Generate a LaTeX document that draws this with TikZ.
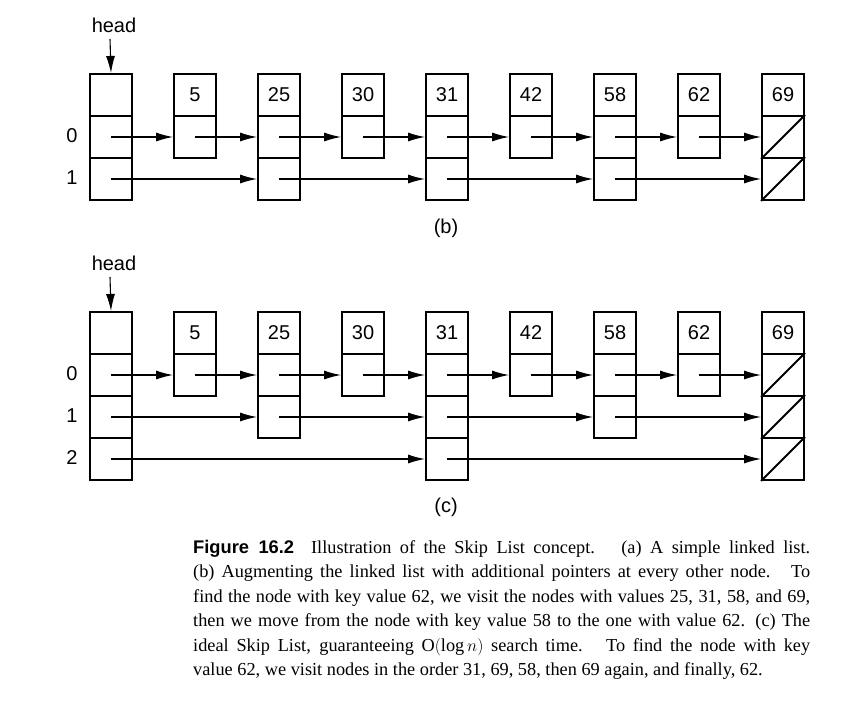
\documentclass[tikz,border=0pt]{standalone}
\usepackage{fontspec}
\setmainfont{Liberation Serif}
\newfontfamily\lsans{Liberation Sans}
\usetikzlibrary{arrows.meta}
\begin{document}
\begin{tikzpicture}[x=1pt,y=-1pt,
  cell/.style={draw,line width=2pt,minimum width=42pt,minimum height=42pt,inner sep=0pt,anchor=north west,font=\lsans\fontsize{20}{20}\selectfont},
  ptr/.style={line width=1.1pt,-{Latex[length=17pt,width=9pt]}},
  lab/.style={font=\lsans\fontsize{20}{20}\selectfont}]
\useasboundingbox (0,0) rectangle (859,725);
\def\keys{5/173,25/257,30/341,31/425,42/509,58/593,62/677}
\foreach \p/\y/\cap in {b/73/228,c/311/507}{
  \node[lab,anchor=south] (\p head) at (114,\y-37) {head};
  \coordinate (\p hs) at (110,\y-34);
  \node[cell] (\p h0) at (89,\y) {};
  \node[cell] (\p h1) at (89,\y+42) {};
  \node[cell] (\p h2) at (89,\y+84) {};
  \draw[ptr] (\p hs) -- (\p h0.north);
  \node[lab] (\p l0) at (72,\y+63) {0};
  \node[lab] (\p l1) at (72,\y+105) {1};
  \foreach \k/\x in \keys{
    \node[cell] (\p k\k) at (\x,\y) {\k};
    \node[cell] (\p k\k a) at (\x,\y+42) {};
  }
  \node[cell] (\p k69) at (761,\y) {69};
  \node[cell] (\p z0) at (761,\y+42) {};
  \node[cell] (\p z1) at (761,\y+84) {};
  \draw[line width=2pt] (\p z0.south west) -- (\p z0.north east);
  \draw[line width=2pt] (\p z1.south west) -- (\p z1.north east);
  \foreach \k/\x in {25/257,31/425,58/593}{
    \node[cell] (\p k\k b) at (\x,\y+84) {};
  }
  \node[lab] (\p cap) at (446,\cap) {(\p)};
  \draw[ptr] (\p h1.center) -- (\p k5a.west);
  \draw[ptr] (\p k5a.center) -- (\p k25a.west);
  \draw[ptr] (\p k25a.center) -- (\p k30a.west);
  \draw[ptr] (\p k30a.center) -- (\p k31a.west);
  \draw[ptr] (\p k31a.center) -- (\p k42a.west);
  \draw[ptr] (\p k42a.center) -- (\p k58a.west);
  \draw[ptr] (\p k58a.center) -- (\p k62a.west);
  \draw[ptr] (\p k62a.center) -- (\p z0.west);
  \draw[ptr] (\p h2.center) -- (\p k25b.west);
  \draw[ptr] (\p k25b.center) -- (\p k31b.west);
  \draw[ptr] (\p k31b.center) -- (\p k58b.west);
  \draw[ptr] (\p k58b.center) -- (\p z1.west);
}
\node[cell] (ch3) at (89,437) {};
\node[lab] (cl2) at (72,458) {2};
\node[cell] (ck31c) at (425,437) {};
\node[cell] (cz2) at (761,437) {};
\draw[line width=2pt] (cz2.south west) -- (cz2.north east);
\draw[ptr] (ch3.center) -- (ck31c.west);
\draw[ptr] (ck31c.center) -- (cz2.west);
\node[anchor=north west,inner sep=0pt,text width=617pt,align=justify,
  font=\fontsize{18.3}{24.5}\selectfont] (caption) at (193,540)
{{\lsans\bfseries Figure 16.2}\ \ Illustration of the Skip List concept. \ (a) A simple linked list.\linebreak
(b) Augmenting the linked list with additional pointers at every other node. \ To\linebreak
find the node with key value 62, we visit the nodes with values 25, 31, 58, and 69,\linebreak
then we move from the node with key value 58 to the one with value 62. (c) The\linebreak
ideal Skip List, guaranteeing $\mathrm{O}(\log n)$ search time. \ To find the node with key\linebreak
value 62, we visit nodes in the order 31, 69, 58, then 69 again, and finally, 62.};
\end{tikzpicture}
\end{document}
